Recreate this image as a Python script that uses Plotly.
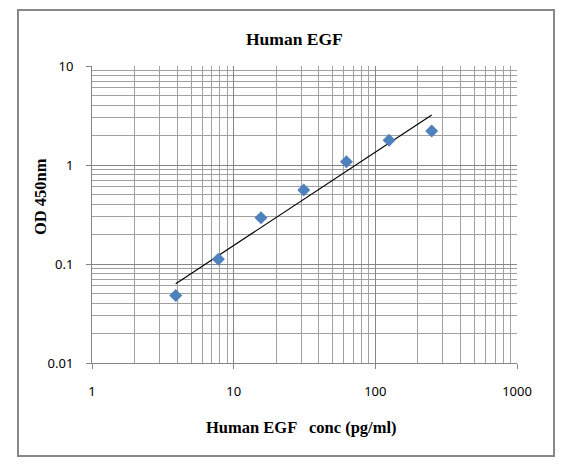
import numpy as np
import plotly.graph_objects as go

conc = [3.9, 7.8, 15.6, 31.25, 62.5, 125, 250]
od = [0.048, 0.112, 0.294, 0.558, 1.08, 1.78, 2.2]

# power trendline (Excel style) fitted in log-log space
slope, intercept = np.polyfit(np.log10(conc), np.log10(od), 1)
fit_x = [conc[0], conc[-1]]
fit_y = [10 ** (intercept + slope * np.log10(v)) for v in fit_x]

fig = go.Figure()
fig.add_trace(go.Scatter(x=fit_x, y=fit_y, mode="lines",
                         line=dict(color="black", width=1.2), showlegend=False))
fig.add_trace(go.Scatter(x=conc, y=od, mode="markers",
                         marker=dict(symbol="diamond", size=10, color="#4F81BD",
                                     line=dict(width=0)), showlegend=False))

L, R, T, B = 92, 55, 66, 106
W, H = 572, 469
pw, ph = W - L - R, H - T - B

def px(x):
    return (x - L) / pw

def py(y):
    return (H - B - y) / ph

grid_major = "#868686"
grid_minor = "#a0a0a0"
tickfont = dict(family="Noto Sans, Liberation Sans, sans-serif", size=13, color="black")

fig.update_xaxes(type="log", range=[0, 3], dtick=1, showgrid=True, gridcolor=grid_major,
                 gridwidth=1, showline=True, linecolor=grid_major, linewidth=1,
                 ticks="outside", ticklen=5, tickcolor=grid_major, tickfont=tickfont,
                 ticklabelstandoff=11, zeroline=False,
                 minor=dict(dtick="D1", showgrid=True, gridcolor=grid_minor, gridwidth=1,
                            ticks=""))
fig.update_yaxes(type="log", range=[-2, 1], dtick=1, showgrid=True, gridcolor=grid_major,
                 gridwidth=1, showline=True, linecolor=grid_major, linewidth=1,
                 ticks="outside", ticklen=5, tickcolor=grid_major, tickfont=tickfont,
                 ticklabelstandoff=10, zeroline=False,
                 minor=dict(dtick="D1", showgrid=True, gridcolor=grid_minor, gridwidth=1,
                            ticks=""))

serif = "Liberation Serif, DejaVu Serif, serif"
ann = dict(xref="paper", yref="paper", showarrow=False, xanchor="center", yanchor="middle")
fig.add_annotation(text="<b>Human EGF</b>", x=px(294.5), y=py(39),
                   font=dict(family=serif, size=17.5, color="black"), **ann)
fig.add_annotation(text="<b>Human EGF   conc (pg/ml)</b>", x=px(301), y=py(427),
                   font=dict(family=serif, size=16.5, color="black"), **ann)
fig.add_annotation(text="<b>OD 450nm</b>", x=px(40), y=py(197), textangle=-90,
                   font=dict(family=serif, size=16.5, color="black"), **ann)

fig.add_shape(type="rect", xref="paper", yref="paper",
              x0=px(18), x1=px(554), y0=py(10), y1=py(456),
              line=dict(color="#888888", width=2), layer="below")

fig.update_layout(width=W, height=H, margin=dict(l=L, r=R, t=T, b=B),
                  paper_bgcolor="white", plot_bgcolor="white")
fig.write_html("out.html", config={"displayModeBar": False},
               post_script="document.body.style.margin='0';")
